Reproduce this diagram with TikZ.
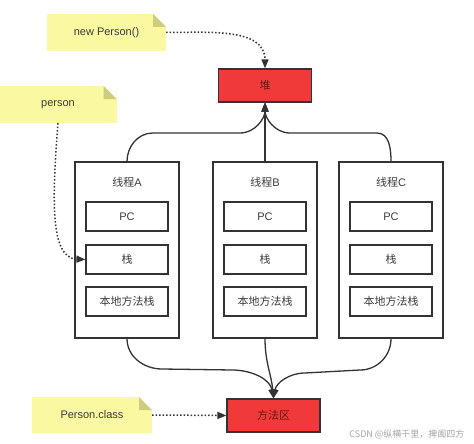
\documentclass[tikz,border=0pt]{standalone}
\usepackage{fontspec}
\setmainfont{Liberation Sans}
\newfontfamily\cjk{Noto Sans CJK SC}
\usetikzlibrary{arrows.meta}
\definecolor{linec}{RGB}{51,51,51}
\definecolor{notefill}{RGB}{250,248,160}
\definecolor{foldc}{RGB}{205,205,125}
\definecolor{redfill}{RGB}{240,58,58}
\definecolor{redtext}{RGB}{110,20,20}
\definecolor{txt}{RGB}{60,60,60}
\definecolor{wmc}{RGB}{165,165,165}
\begin{document}
\begin{tikzpicture}[x=1pt,y=-1pt, font=\fontsize{11}{13}\selectfont, text=txt,
  box/.style={draw=linec, line width=1.2pt, fill=white, inner sep=0pt, minimum width=82pt, minimum height=29pt},
  thread/.style={draw=linec, line width=1.2pt, fill=white, inner sep=0pt, minimum width=104pt, minimum height=176pt},
  redbox/.style={draw=linec, line width=1.2pt, fill=redfill, inner sep=0pt, text=redtext, minimum width=93pt, minimum height=33pt},
  note/.style={fill=notefill, inner sep=0pt,
    path picture={
      \fill[white] ([xshift=-13pt]path picture bounding box.north east) -- (path picture bounding box.north east) -- ([yshift=-13pt]path picture bounding box.north east) -- cycle;
      \fill[foldc] ([xshift=-13pt]path picture bounding box.north east) -- ([xshift=-13pt,yshift=-13pt]path picture bounding box.north east) -- ([yshift=-13pt]path picture bounding box.north east) -- cycle;
    }},
  conn/.style={draw=linec, line width=1.3pt, -{Triangle[length=9pt,width=7pt]}},
  dotconn/.style={draw=linec, line width=1.5pt, dotted, -{Triangle[length=9pt,width=7pt]}}]
\useasboundingbox (0,0) rectangle (474,444);
\fill[white] (0,0) rectangle (474,444);

% notes
\node[note, minimum width=119pt, minimum height=37pt] (n1) at (106.5,32.5) {new Person()};
\node[note, minimum width=117pt, minimum height=37pt] (n2) at (58,104.5) {person};
\node[note, minimum width=120pt, minimum height=36pt] (n3) at (92,415) {Person.class};

% heap and method area
\node[redbox] (heap) at (265,85.5) {\cjk 堆};
\node[redbox] (fang) at (273.5,415.5) {\cjk 方法区};

% threads
\foreach \n/\x/\l in {A/127/A, B/265/B, C/391/C}{
  \node[thread] (t\n) at (\x,250) {};
  \node (lab\n) at (\x,182) {{\cjk 线程}\l};
  \node[box] (pc\n) at (\x,216.5) {PC};
  \node[box] (st\n) at (\x,259.5) {\cjk 栈};
  \node[box] (nm\n) at (\x,301.5) {\cjk 本地方法栈};
}

% connectors to heap
\draw[conn] (tA.north) to[out=90,in=180] (153,133) -- (240,133) to[out=0,in=-90] (heap.south);
\draw[conn] (tB.north) -- (heap.south);
\draw[conn] (tC.north) to[out=90,in=0] (377,133) -- (290,133) to[out=180,in=-90] (heap.south);

% connectors to method area
\draw[conn] (tA.south) to[out=-90,in=180] (162,369) -- (232,370) to[out=0,in=100] (fang.north);
\draw[conn] (tB.south) to[out=-90,in=95] (fang.north);
\draw[conn] (tC.south) to[out=-90,in=0] (360,370) -- (305,373) to[out=180,in=80] (fang.north);

% dotted references
\draw[dotconn] (n1.east) to[out=0,in=90] (heap.north);
\draw[dotconn] (n2.south) .. controls (52,200) and (50,258) .. (stA.west);
\draw[dotconn] (n3.east) -- (fang.west);

% watermark
\node[font=\cjk\fontsize{9}{10}\selectfont, text=wmc, anchor=east] (wm) at (468,434) {CSDN @纵横千里，捭阖四方};
\end{tikzpicture}
\end{document}
